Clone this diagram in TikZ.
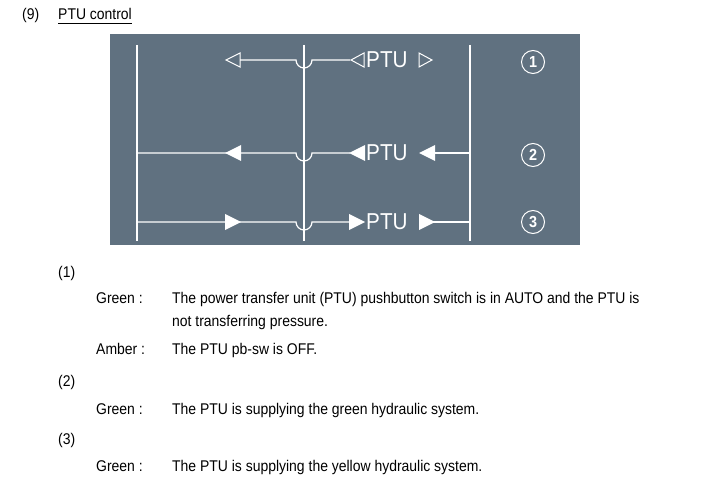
\documentclass[tikz,border=0pt]{standalone}
\usepackage{fontspec}
\setmainfont[FakeStretch=0.9]{Liberation Sans}
\begin{document}
\begin{tikzpicture}[x=1pt,y=-1pt,
  wire/.style={draw=white,line width=1.2pt},
  tri/.style={draw=white,line width=1pt,line join=miter},
  ftri/.style={fill=white},
  lbl/.style={text=white,font=\fontsize{23}{23}\selectfont,inner sep=0pt},
  num/.style={circle,draw=white,line width=1pt,minimum size=23pt,inner sep=0pt,text=white,font=\fontsize{16}{16}\selectfont\bfseries},
  txt/.style={anchor=base west,inner sep=0pt,font=\fontsize{15.5}{15.5}\selectfont}]
\useasboundingbox (0,0) rectangle (711,486);
\fill[fill={rgb,255:red,96;green,113;blue,128}] (110,34) rectangle (580,245);
\coordinate (L1) at (137,45); \coordinate (L2) at (137,241);
\coordinate (M1) at (304,45); \coordinate (M2) at (304,241);
\coordinate (R1) at (470,45); \coordinate (R2) at (470,241);
\draw[wire] (L1) -- (L2);
\draw[wire] (M1) -- (M2);
\draw[wire] (R1) -- (R2);
% row 1
\def\ya{60}
\draw[wire] (240,\ya) -- (296,\ya) arc[start angle=180,end angle=0,radius=8] -- (350,\ya);
\draw[tri] (226,\ya) -- (240,\ya-7) -- (240,\ya+7) -- cycle;
\draw[tri] (351,\ya) -- (364,\ya-7) -- (364,\ya+7) -- cycle;
\node[lbl,anchor=west] (p1) at (366,\ya) {PTU};
\draw[tri] (432,\ya) -- (419,\ya-7) -- (419,\ya+7) -- cycle;
% row 2
\def\yb{153}
\draw[wire] (137,\yb) -- (296,\yb) arc[start angle=180,end angle=0,radius=8] -- (350,\yb);
\fill[ftri] (225,\yb) -- (241,\yb-8) -- (241,\yb+8) -- cycle;
\fill[ftri] (349,\yb) -- (365,\yb-8) -- (365,\yb+8) -- cycle;
\node[lbl,anchor=west] (p2) at (366,\yb) {PTU};
\draw[wire] (430,\yb) -- (470,\yb);
\fill[ftri] (419,\yb) -- (435,\yb-8) -- (435,\yb+8) -- cycle;
% row 3
\def\yc{222}
\draw[wire] (137,\yc) -- (296,\yc) arc[start angle=180,end angle=0,radius=8] -- (352,\yc);
\fill[ftri] (241,\yc) -- (225,\yc-8) -- (225,\yc+8) -- cycle;
\fill[ftri] (365,\yc) -- (349,\yc-8) -- (349,\yc+8) -- cycle;
\node[lbl,anchor=west] (p3) at (366,\yc) {PTU};
\draw[wire] (425,\yc) -- (470,\yc);
\fill[ftri] (435,\yc) -- (419,\yc-8) -- (419,\yc+8) -- cycle;
% numbers
\node[num] (n1) at (533,62) {1};
\node[num] (n2) at (533,155) {2};
\node[num] (n3) at (533,222) {3};
% header
\node[txt] (h1) at (22,20) {(9)};
\node[txt] (h2) at (58,20) {PTU control};
\draw (58,23) -- (h2.base east |- 0,23);
% body
\node[txt] (a1) at (58,277) {(1)};
\node[txt] (g1) at (96,303) {Green :};
\node[txt] (t1) at (172,303) {The power transfer unit (PTU) pushbutton switch is in AUTO and the PTU is};
\node[txt] (t1b) at (172,326) {not transferring pressure.};
\node[txt] (am) at (96,354) {Amber :};
\node[txt] (t2) at (172,354) {The PTU pb-sw is OFF.};
\node[txt] (a2) at (58,386) {(2)};
\node[txt] (g2) at (96,414) {Green :};
\node[txt] (t3) at (172,414) {The PTU is supplying the green hydraulic system.};
\node[txt] (a3) at (58,444) {(3)};
\node[txt] (g3) at (96,471) {Green :};
\node[txt] (t4) at (172,471) {The PTU is supplying the yellow hydraulic system.};
\end{tikzpicture}
\end{document}
